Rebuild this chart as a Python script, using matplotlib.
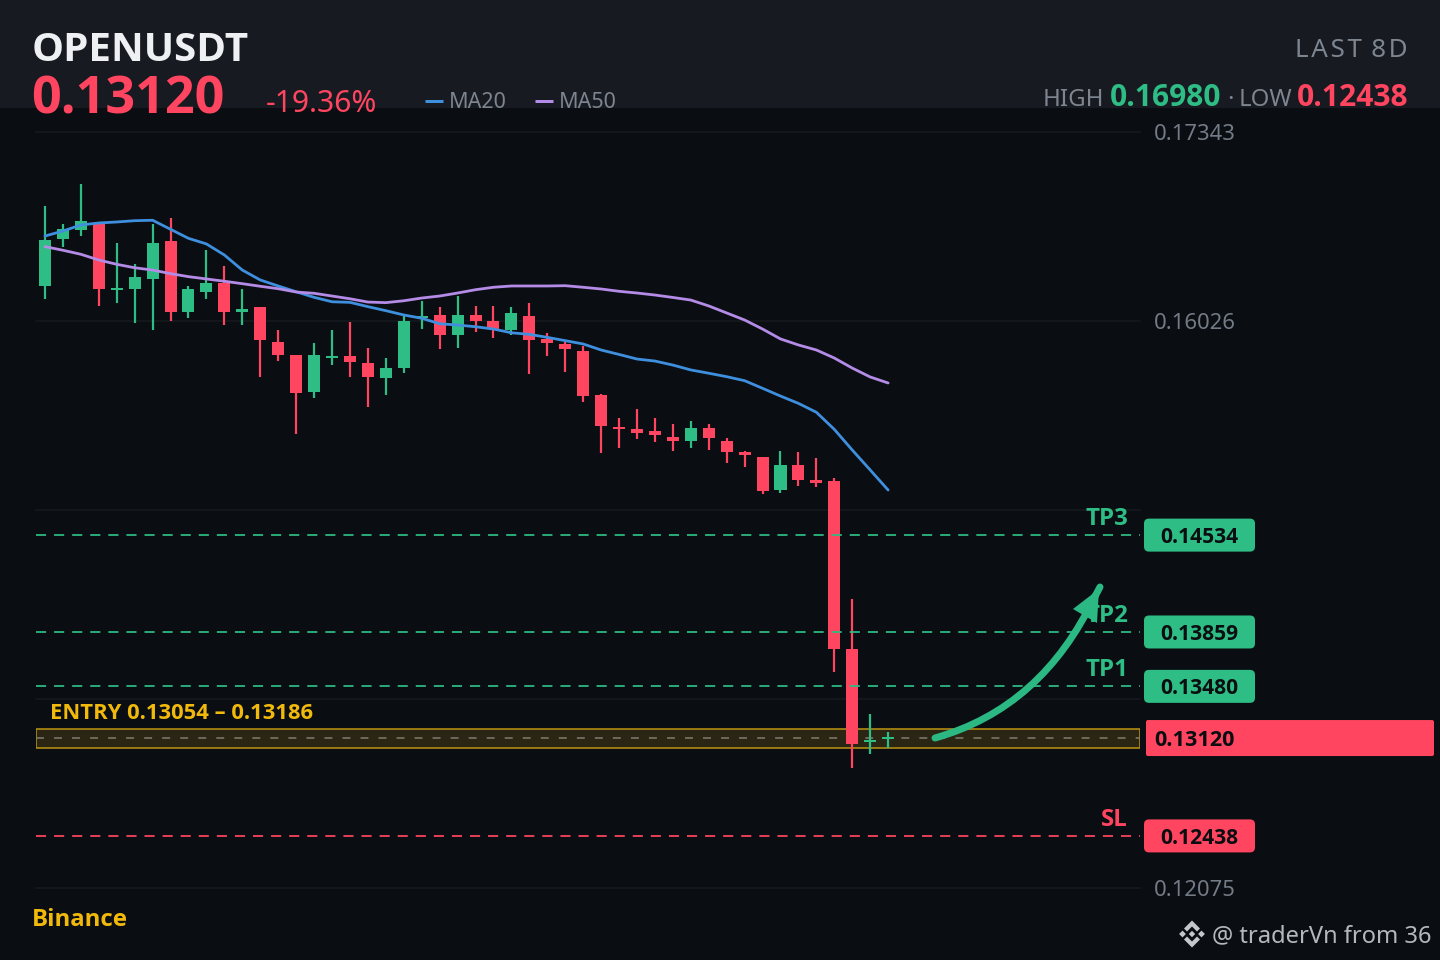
import matplotlib
matplotlib.use("Agg")
import matplotlib.pyplot as plt
import numpy as np
from matplotlib.patches import FancyBboxPatch, Rectangle, Polygon, PathPatch
from matplotlib.path import Path

plt.rcParams['font.family'] = ['Noto Sans', 'DejaVu Sans']
BOLD_FAMILY = ['Open Sans', 'DejaVu Sans']

opens = [.16272,.16599,.16660,.16707,.16239,.16251,.16321,.16581,.16091,.16230,.16291,.16091,.16121,.15880,.15789,.15529,
         .15768,.15780,.15731,.15631,.15701,.16049,.16068,.15931,.16068,.16028,.15961,.16059,.15901,.15868,.15819,.15508,
         .15289,.15271,.15259,.15220,.15190,.15280,.15190,.15111,.15080,.14850,.15020,.14920,.14911,.13740,.13092,.13110]
highs = [.16829,.16702,.16980,.16709,.16567,.16421,.16702,.16742,.16270,.16521,.16409,.16249,.16121,.15961,.15789,.15871,
         .15961,.16019,.15838,.15770,.16068,.16167,.16121,.16202,.16131,.16131,.16121,.16149,.15940,.15880,.15854,.15517,
         .15350,.15411,.15350,.15310,.15329,.15310,.15209,.15120,.15080,.15120,.15111,.15069,.14930,.14091,.13289,.13160]
lows = [.16181,.16544,.16620,.16133,.16149,.16010,.15961,.16028,.16049,.16179,.16000,.16000,.15638,.15749,.15241,.15492,
        .15719,.15638,.15429,.15510,.15662,.15970,.15829,.15840,.15951,.15910,.15931,.15659,.15780,.15671,.15459,.15108,
        .15141,.15202,.15181,.15120,.15141,.15129,.15039,.15009,.14820,.14830,.14878,.14869,.13582,.12909,.13011,.13053]
closes = [.16590,.16669,.16721,.16251,.16245,.16330,.16570,.16091,.16249,.16291,.16091,.16110,.15891,.15789,.15522,.15789,
          .15780,.15740,.15638,.15701,.16028,.16059,.15931,.16068,.16028,.15970,.16080,.15891,.15871,.15831,.15501,.15292,
          .15271,.15248,.15232,.15190,.15280,.15211,.15111,.15090,.14839,.15020,.14920,.14899,.13740,.13080,.13106,.13120]
ma20 = [.16618,.16653,.16695,.16709,.16716,.16725,.16728,.16665,.16602,.16563,.16486,.16381,.16312,.16270,.16230,.16191,
        .16160,.16156,.16126,.16098,.16068,.16045,.16007,.15998,.15986,.15970,.15944,.15933,.15912,.15889,.15866,.15824,
        .15793,.15761,.15747,.15719,.15685,.15662,.15638,.15610,.15557,.15503,.15452,.15390,.15271,.15127,.14988,.14848]
ma50 = [.16544,.16519,.16491,.16451,.16421,.16397,.16381,.16356,.16335,.16319,.16303,.16286,.16268,.16251,.16228,.16219,
        .16200,.16181,.16158,.16154,.16167,.16186,.16200,.16221,.16244,.16261,.16270,.16270,.16270,.16272,.16261,.16249,
        .16233,.16221,.16207,.16190,.16172,.16131,.16082,.16033,.15970,.15901,.15859,.15824,.15768,.15698,.15636,.15594]

grid_levels = [.17343,.16026,.14709,.13392,.12075]
axis_labels = {.17343:"0.17343", .16026:"0.16026", .12075:"0.12075"}
tp_levels = [.14534,.13859,.13480]
tp_names = ["TP3","TP2","TP1"]
sl_level = .12438
last_price = .13120
entry_low, entry_high = .13054,.13186

BG = "#0a0d11"; BAND = "#171a20"
GREEN = "#2ebd85"; RED = "#ff4560"; GOLD = "#f0b90b"; GREY = "#7d8590"
BLUE = "#3f8fdf"; PURPLE = "#b48be6"

PX = 0.72  # points per pixel at dpi=100
fig = plt.figure(figsize=(14.4, 9.6), dpi=100, facecolor=BG)

ov = fig.add_axes([0, 0, 1, 1], zorder=3)
ov.set_xlim(0, 1440); ov.set_ylim(960, 0); ov.axis("off"); ov.patch.set_alpha(0)

bg = fig.add_axes([0, 0, 1, 1], zorder=0)
bg.set_xlim(0, 1440); bg.set_ylim(960, 0); bg.axis("off")
bg.add_patch(Rectangle((0, 0), 1440, 108, fc=BAND, ec="none"))

ax = fig.add_axes([36/1440, 1-888/960, 1104/1440, 756/960], zorder=1)
ax.patch.set_alpha(0)
ax.set_xlim(-0.5, 61.04)
ax.set_ylim(.12075, .17343)
ax.axis("off")

for g in grid_levels:
    ax.axhline(g, color="#171b20", lw=1.1, clip_on=False, zorder=1)

ax.axhspan(entry_low, entry_high, fc="#2b2513", ec="#b08a12", lw=1.2, zorder=1.5)
ax.axhline(last_price, color="#7f7d72", lw=1.1, ls=(0, (5.2, 6.6)), zorder=1.6)

x = np.arange(len(opens))
for i in x:
    o, h, l, c = opens[i], highs[i], lows[i], closes[i]
    col = GREEN if c >= o else RED
    ax.vlines(i, l, h, color=col, lw=1.6, zorder=3)
    ax.bar(i, max(abs(c-o), .00014), bottom=min(o, c), width=0.67, color=col,
           edgecolor="none", zorder=3.2)

ax.plot(x, ma20, color=BLUE, lw=2.0, zorder=4, solid_capstyle="round")
ax.plot(x, ma50, color=PURPLE, lw=2.0, zorder=4, solid_capstyle="round")

for lev in tp_levels:
    ax.axhline(lev, color=GREEN, lw=1.4, alpha=.9, ls=(0, (5.2, 4.1)), zorder=5)
ax.axhline(sl_level, color=RED, lw=1.4, alpha=.9, ls=(0, (5.2, 4.1)), zorder=5)


def T(px_x, px_y, s, size, color, weight="normal", ha="left", va="baseline", **kw):
    if weight == "bold":
        kw["family"] = BOLD_FAMILY
    return ov.text(px_x, px_y, s, fontsize=size*PX, color=color, fontweight=weight,
                   ha=ha, va=va, **kw)


T(32, 61, "OPENUSDT", 40.2, "#eef0f3", "bold")
T(31.5, 113, "0.13120", 52, RED, "bold")
T(266, 112, "-19.36%", 30, RED)
ov.plot([425, 443], [101, 101], color=BLUE, lw=3*PX, solid_capstyle="butt")
T(449, 108, "MA20", 21.5, GREY)
ov.plot([535, 553], [101, 101], color=PURPLE, lw=3*PX, solid_capstyle="butt")
T(559, 108, "MA50", 21.5, GREY)
T(1408, 57, "L\u200aA\u200aS\u200aT \u200a8\u200aD", 26, GREY, ha="right")
T(1043, 106, "HIGH", 24, GREY)
T(1110, 106, "0.16980", 30, GREEN, "bold")
T(1227, 106, "·", 24, GREY)
T(1239, 106, "LOW", 24, GREY)
T(1408, 106, "0.12438", 30, RED, "bold", ha="right")

for g, s in axis_labels.items():
    py = 132 + (.17343 - g) / (.17343 - .12075) * 756
    T(1154, py, s, 22, "#737b86", va="center_baseline")

for lev, name in zip(tp_levels, tp_names):
    py = 132 + (.17343 - lev) / (.17343 - .12075) * 756
    ov.add_patch(FancyBboxPatch((1144, py-16.5), 111, 33, boxstyle="round,pad=0,rounding_size=5",
                                fc=GREEN, ec="none"))
    T(1199.5, py, f"{lev:.5f}", 21, "#0b0e11", "bold", ha="center", va="center_baseline")
    T(1128, py-10, name, 24, GREEN, "bold", ha="right")
py = 132 + (.17343 - sl_level) / (.17343 - .12075) * 756
ov.add_patch(FancyBboxPatch((1144, py-16.5), 111, 33, boxstyle="round,pad=0,rounding_size=5", fc=RED, ec="none"))
T(1199.5, py, f"{sl_level:.5f}", 21, "#0b0e11", "bold", ha="center", va="center_baseline")
T(1128, py-10, "SL", 24, RED, "bold", ha="right")

py = 132 + (.17343 - last_price) / (.17343 - .12075) * 756
ov.add_patch(FancyBboxPatch((1146, py-18), 288, 36, boxstyle="round,pad=0,rounding_size=2", fc=RED, ec="none"))
T(1154, py, f"{last_price:.5f}", 21.7, "#0b0e11", "bold", va="center_baseline")

T(50.5, 719, "ENTRY 0.13054 – 0.13186", 22, GOLD, "bold")
T(32, 926, "Binance", 24, GOLD, "bold")

arrow_col = "#2cb883"
curve = Path([(935, 738), (1042, 708), (1095, 596)], [Path.MOVETO, Path.CURVE3, Path.CURVE3])
ov.add_patch(PathPatch(curve, fc="none", ec=arrow_col, lw=7*PX, capstyle="round", zorder=6))
ov.plot([1091, 1100], [604, 587], color=arrow_col, lw=7*PX, solid_capstyle="round", zorder=6)
ov.add_patch(Polygon([(1099, 589), (1073, 609), (1097, 623)], fc=arrow_col, ec="none", zorder=6))

logo = "#c4c7cb"
cx, cy = 1192, 934
def diamond(dx, dy, r):
    ov.add_patch(Polygon([(cx+dx-r, cy+dy), (cx+dx, cy+dy-r), (cx+dx+r, cy+dy), (cx+dx, cy+dy+r)],
                         fc=logo, ec="none"))
diamond(-9.5, 0, 3.4); diamond(9.5, 0, 3.4); diamond(0, 0, 3.2)
ov.add_patch(Polygon([(cx, cy-13.5), (cx+8, cy-5.5), (cx+5, cy-2.5), (cx, cy-7.5), (cx-5, cy-2.5), (cx-8, cy-5.5)], fc=logo, ec="none"))
ov.add_patch(Polygon([(cx, cy+13.5), (cx+8, cy+5.5), (cx+5, cy+2.5), (cx, cy+7.5), (cx-5, cy+2.5), (cx-8, cy+5.5)], fc=logo, ec="none"))
T(1212, 942, "@ traderVn from 36", 23.7, "#b4b7bb")

fig.savefig("out.png", dpi=100, facecolor=BG)
